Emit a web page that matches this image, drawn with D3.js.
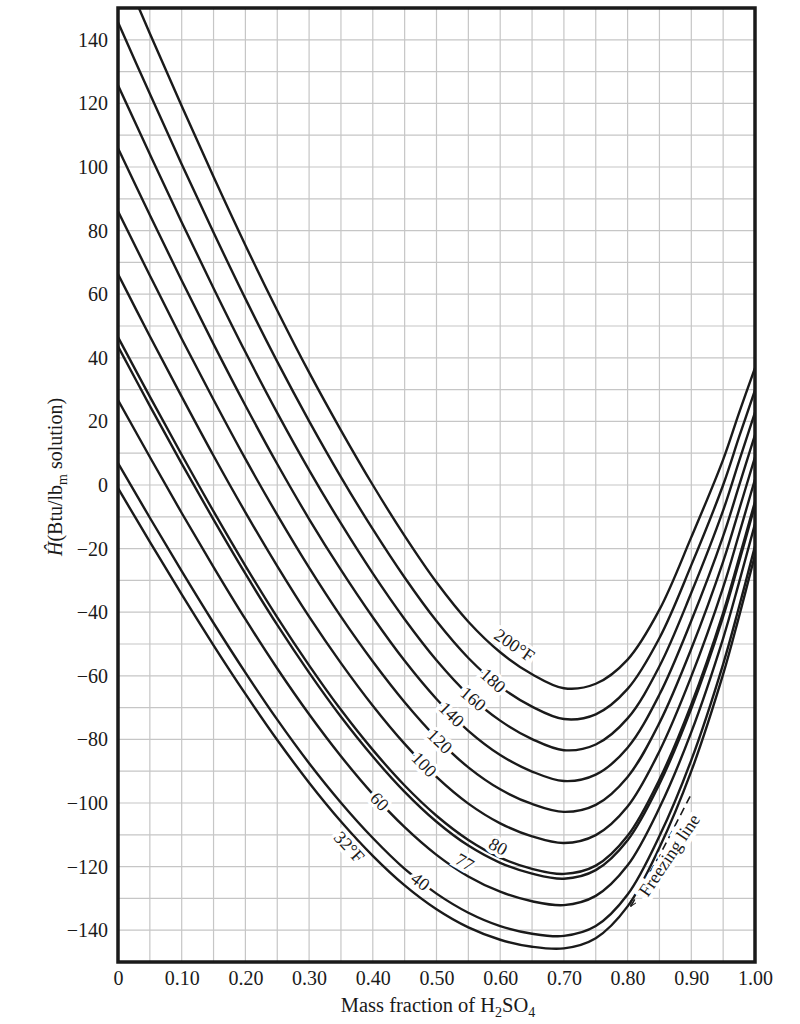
<!DOCTYPE html>
<html>
<head>
<meta charset="utf-8">
<script src="https://cdn.jsdelivr.net/npm/d3@7"></script>
<style>
  body { margin: 0; background: #fff; }
  svg { display: block; font-family: "Liberation Serif", "DejaVu Serif", serif; }
</style>
</head>
<body>
<svg width="800" height="1024"></svg>
<script>
// mass fraction H2SO4 where the isotherms were read
var xs = [0, 0.05, 0.1, 0.15, 0.2, 0.25, 0.3, 0.35, 0.4, 0.45, 0.5, 0.55,
          0.6, 0.65, 0.7, 0.75, 0.8, 0.85, 0.9, 0.95, 0.975, 1.0];

// enthalpy (Btu/lbm solution) along each isotherm
var h32  = [-1, -17.9, -34.4, -50.4, -65.7, -80.2, -93.6, -105.8, -116.6, -125.9, -133.4, -139.1, -143, -145.2, -145.7, -142.5, -132.5, -114, -90, -59.5, -41.3, -22];
var h40  = [6.9, -10.3, -27.1, -43.4, -59, -73.8, -87.5, -99.9, -111, -120.7, -128.5, -134.5, -138.7, -141.1, -141.8, -138.7, -128.8, -110.4, -86.5, -56.3, -38.3, -19.2];
var h60  = [26.7, 8.8, -8.8, -25.8, -42.2, -57.7, -72.1, -85.3, -97.2, -107.6, -116.3, -123.1, -127.9, -130.9, -132.1, -129.2, -119.6, -101.5, -77.7, -48.2, -30.6, -12.2];
var h77  = [43.6, 24.9, 6.7, -10.9, -27.9, -44, -59, -72.9, -85.4, -96.5, -105.9, -113.4, -118.8, -122.2, -123.8, -121.1, -111.7, -94, -70.3, -41.4, -24.2, -6.3];
var h80  = [46.5, 27.8, 9.5, -8.3, -25.4, -41.6, -56.7, -70.7, -83.3, -94.5, -104, -111.6, -117.2, -120.7, -122.3, -119.7, -110.3, -92.6, -69, -40.2, -23, -5.2];
var h100 = [66.3, 46.8, 27.8, 9.2, -8.6, -25.5, -41.4, -56, -69.4, -81.4, -91.8, -100.2, -106.4, -110.5, -112.6, -110.1, -101.1, -83.7, -60.2, -32.2, -15.4, 1.8];
var h120 = [86.1, 65.9, 46, 26.8, 8.2, -9.4, -26, -41.4, -55.5, -68.3, -79.5, -88.8, -95.7, -100.3, -102.8, -100.6, -91.8, -74.8, -51.5, -24.1, -7.8, 8.8];
var h140 = [105.9, 84.9, 64.3, 44.3, 25, 6.6, -10.7, -26.7, -41.6, -55.3, -67.3, -77.3, -84.9, -90.1, -93.1, -91.1, -82.6, -65.9, -42.7, -16.1, -0.2, 15.8];
var h160 = [125.7, 104, 82.6, 61.9, 41.8, 22.7, 4.7, -12.1, -27.8, -42.2, -55.1, -65.9, -74.1, -79.9, -83.4, -81.6, -73.4, -57, -33.9, -8, 7.5, 22.8];
var h180 = [145.5, 123, 100.9, 79.4, 58.6, 38.8, 20.1, 2.5, -13.9, -29.1, -42.8, -54.4, -63.4, -69.7, -73.6, -72.1, -64.1, -48.1, -25.2, 0, 15.1, 29.8];
var h200 = [165.3, 142, 119.2, 96.9, 75.4, 54.9, 35.4, 17.2, 0, -16, -30.6, -43, -52.6, -59.5, -63.9, -62.5, -54.9, -39.2, -16.4, 8, 22.7, 36.8];

// dashed freezing line
var freezeX = [0.805, 0.852, 0.9];
var freezeH = [-132.5, -115.8, -97.2];

var xTicks = [0, 0.1, 0.2, 0.3, 0.4, 0.5, 0.6, 0.7, 0.8, 0.9, 1.0];
var yTicks = [-140, -120, -100, -80, -60, -40, -20, 0, 20, 40, 60, 80, 100, 120, 140];

var series = [
  {t: 32, v: h32}, {t: 40, v: h40}, {t: 60, v: h60}, {t: 77, v: h77},
  {t: 80, v: h80}, {t: 100, v: h100}, {t: 120, v: h120}, {t: 140, v: h140},
  {t: 160, v: h160}, {t: 180, v: h180}, {t: 200, v: h200}
];

// where each curve gets its label (at, along x) and how far off the line it sits
var labels = [
  {t: 32,  text: "32°F",  at: 0.376, off: 11},
  {t: 40,  text: "40",    at: 0.475, off: 0},
  {t: 60,  text: "60",    at: 0.411, off: 0},
  {t: 77,  text: "77",    at: 0.557, off: 16},
  {t: 80,  text: "80",    at: 0.59,  off: -9},
  {t: 100, text: "100",   at: 0.481, off: 0},
  {t: 120, text: "120",   at: 0.5055, off: 0},
  {t: 140, text: "140",   at: 0.524, off: 0},
  {t: 160, text: "160",   at: 0.558, off: 0},
  {t: 180, text: "180",   at: 0.589, off: 0},
  {t: 200, text: "200°F", at: 0.61,  off: -14}
];

var margin = {left: 118, right: 755, top: 8, bottom: 962};

var svg = d3.select("svg");

var x = d3.scaleLinear().domain([0, 1]).range([margin.left, margin.right]);
var y = d3.scaleLinear().domain([-150, 150]).range([margin.bottom, margin.top]);

var defs = svg.append("defs");
defs.append("clipPath").attr("id", "plot")
  .append("rect")
    .attr("x", margin.left).attr("y", margin.top)
    .attr("width", margin.right - margin.left)
    .attr("height", margin.bottom - margin.top);

// grid
var grid = svg.append("g")
    .attr("stroke", "#c6c6c6")
    .attr("stroke-width", 1.2);

grid.selectAll(".gx")
    .data(d3.range(1, 20).map(function(i) { return i * 0.05; }))
  .enter().append("line")
    .attr("x1", function(d) { return x(d); })
    .attr("x2", function(d) { return x(d); })
    .attr("y1", margin.top).attr("y2", margin.bottom);

grid.selectAll(".gy")
    .data(d3.range(-14, 15).map(function(i) { return i * 10; }))
  .enter().append("line")
    .attr("y1", function(d) { return y(d); })
    .attr("y2", function(d) { return y(d); })
    .attr("x1", margin.left).attr("x2", margin.right);

// isotherms
var line = d3.line()
    .x(function(d) { return x(d[0]); })
    .y(function(d) { return y(d[1]); })
    .curve(d3.curveCatmullRom.alpha(0.5));

var curves = svg.append("g").attr("clip-path", "url(#plot)");

curves.selectAll(".iso")
    .data(series)
  .enter().append("path")
    .attr("class", "iso")
    .attr("fill", "none")
    .attr("stroke", "#1a1a1a")
    .attr("stroke-width", 2.4)
    .attr("d", function(s) { return line(d3.zip(xs, s.v)); });

// freezing line
defs.append("marker")
    .attr("id", "tip")
    .attr("viewBox", "0 0 10 10")
    .attr("refX", 9).attr("refY", 5)
    .attr("markerWidth", 7).attr("markerHeight", 7)
    .attr("markerUnits", "userSpaceOnUse")
    .attr("orient", "auto-start-reverse")
  .append("path")
    .attr("d", "M1,1 L9,5 L1,9")
    .attr("fill", "none")
    .attr("stroke", "#1a1a1a")
    .attr("stroke-width", 1.5);

svg.append("path")
    .attr("fill", "none")
    .attr("stroke", "#1a1a1a")
    .attr("stroke-width", 1.6)
    .attr("stroke-dasharray", "8,5")
    .attr("marker-start", "url(#tip)")
    .attr("d", d3.line()
      .x(function(d) { return x(d[0]); })
      .y(function(d) { return y(d[1]); })(d3.zip(freezeX, freezeH)));

// curve labels
var lab = svg.append("g")
    .attr("font-size", 18)
    .attr("fill", "#1a1a1a")
    .attr("text-anchor", "middle");

labels.forEach(function(l) {
  var s = series.find(function(d) { return d.t === l.t; });
  var f = d3.scaleLinear().domain(xs).range(s.v);
  var px = x(l.at), py = y(f(l.at));
  var ang = Math.atan2(y(f(l.at + 0.01)) - y(f(l.at - 0.01)),
                       x(l.at + 0.01) - x(l.at - 0.01)) * 180 / Math.PI;
  lab.append("text")
      .attr("transform", "translate(" + px + "," + py + ") rotate(" + ang + ")")
      .attr("y", l.off)
      .attr("dy", "0.35em")
      .attr("stroke", "#fff")
      .attr("stroke-width", 7)
      .attr("paint-order", "stroke")
      .text(l.text);
});

svg.append("text")
    .attr("transform", "translate(669,855) rotate(-56)")
    .attr("text-anchor", "middle")
    .attr("dy", "0.35em")
    .attr("font-size", 18)
    .attr("fill", "#1a1a1a")
    .attr("stroke", "#fff")
    .attr("stroke-width", 9)
    .attr("paint-order", "stroke")
    .text("Freezing line");

// frame
svg.append("rect")
    .attr("x", margin.left).attr("y", margin.top)
    .attr("width", margin.right - margin.left)
    .attr("height", margin.bottom - margin.top)
    .attr("fill", "none")
    .attr("stroke", "#1a1a1a")
    .attr("stroke-width", 3.5);

// axes
var fmtX = function(d) { return d === 0 ? "0" : d3.format(".2f")(d); };

var gx = svg.append("g")
    .attr("transform", "translate(0," + margin.bottom + ")")
    .call(d3.axisBottom(x).tickValues(xTicks).tickFormat(fmtX).tickSize(0).tickPadding(9));
var gy = svg.append("g")
    .attr("transform", "translate(" + margin.left + ",0)")
    .call(d3.axisLeft(y).tickValues(yTicks).tickSize(0).tickPadding(10));

[gx, gy].forEach(function(g) {
  g.attr("font-size", 20).attr("font-family", null);
  g.select(".domain").remove();
  g.selectAll("text").attr("fill", "#1a1a1a");
});

// axis titles
var xt = svg.append("text")
    .attr("x", 438).attr("y", 1012)
    .attr("text-anchor", "middle")
    .attr("font-size", 20.5)
    .attr("fill", "#1a1a1a");
xt.append("tspan").text("Mass fraction of H");
xt.append("tspan").attr("font-size", 14).attr("dy", 5).text("2");
xt.append("tspan").attr("dy", -5).text("SO");
xt.append("tspan").attr("font-size", 14).attr("dy", 5).text("4");

var yt = svg.append("text")
    .attr("transform", "translate(62,477) rotate(-90)")
    .attr("text-anchor", "middle")
    .attr("font-size", 20)
    .attr("fill", "#1a1a1a");
yt.append("tspan").attr("font-style", "italic").text("Ĥ");
yt.append("tspan").text("(Btu/lb");
yt.append("tspan").attr("font-size", 14).attr("dy", 5).text("m");
yt.append("tspan").attr("dy", -5).text(" solution)");
</script>
</body>
</html>
